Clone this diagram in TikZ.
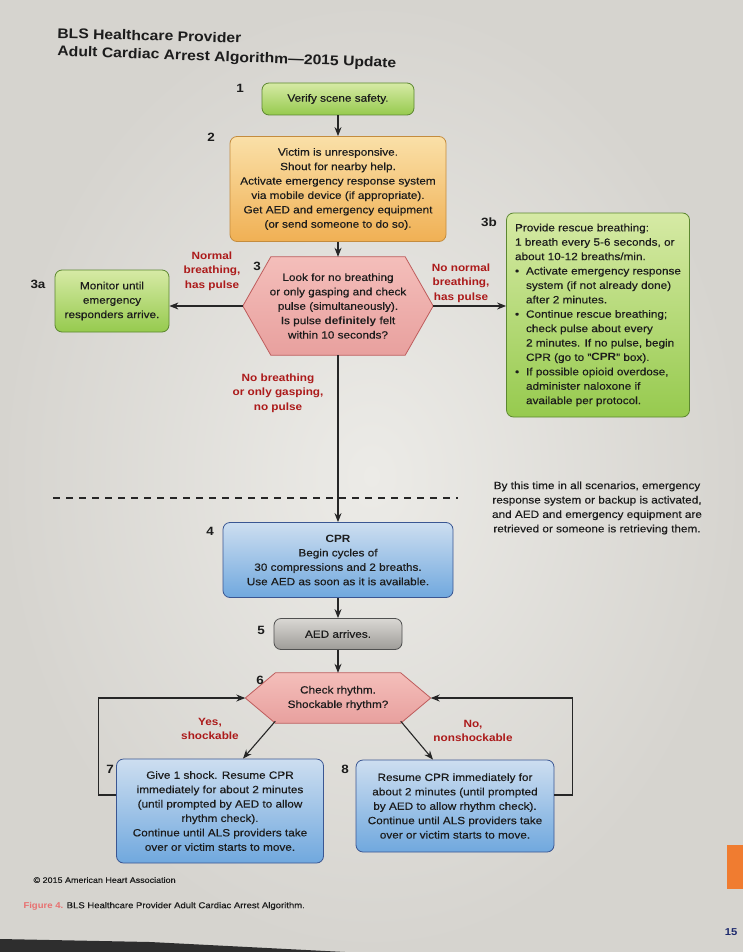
\documentclass[tikz,border=0pt]{standalone}
\usepackage{fontspec}
\setmainfont{Liberation Sans}[FakeStretch=1.12, UprightFeatures={FakeBold=0.35}]
\usetikzlibrary{arrows.meta,calc,backgrounds}
\definecolor{paperIn}{RGB}{236,235,231}
\definecolor{paperOut}{RGB}{214,212,207}
\definecolor{gT}{RGB}{214,234,165}
\definecolor{gB}{RGB}{150,202,78}
\definecolor{gD}{RGB}{92,135,48}
\definecolor{oT}{RGB}{250,224,168}
\definecolor{oB}{RGB}{240,176,84}
\definecolor{oD}{RGB}{196,140,62}
\definecolor{pT}{RGB}{244,190,186}
\definecolor{pB}{RGB}{232,160,158}
\definecolor{pD}{RGB}{190,92,92}
\definecolor{bT}{RGB}{205,222,240}
\definecolor{bB}{RGB}{112,168,222}
\definecolor{bD}{RGB}{58,86,146}
\definecolor{yT}{RGB}{218,216,212}
\definecolor{yB}{RGB}{158,156,152}
\definecolor{yD}{RGB}{80,80,80}
\definecolor{labred}{RGB}{172,26,26}
\definecolor{ink}{RGB}{28,28,28}
\definecolor{figpink}{RGB}{232,112,112}
\definecolor{orangebar}{RGB}{240,124,48}
\definecolor{pageblue}{RGB}{30,42,110}
\newcommand{\bx}{\fontsize{10.5}{14.4}\selectfont}
\newcommand{\bul}{\makebox[11pt][l]{•}}
\newcommand{\ind}{\hspace*{11pt}}
\begin{document}
\begin{tikzpicture}[x=1pt,y=-1pt,
  base/.style={rounded corners=7pt, line width=0.8pt, align=center, font=\bx, text=ink, inner sep=2pt},
  greenbox/.style={base, draw=gD, top color=gT, bottom color=gB},
  orangebox/.style={base, draw=oD, top color=oT, bottom color=oB},
  bluebox/.style={base, draw=bD, top color=bT, bottom color=bB},
  graybox/.style={base, draw=yD, top color=yT, bottom color=yB},
  hexnode/.style={align=center, font=\bx, text=ink, inner sep=0pt},
  hexshape/.style={draw=pD, line width=0.8pt, top color=pT, bottom color=pB},
  num/.style={font=\fontsize{12}{12}\selectfont\bfseries, text=ink},
  lab/.style={align=center, font=\fontsize{10.5}{14.4}\selectfont\bfseries, text=labred},
  note/.style={align=center, font=\bx, text=ink},
  arr/.style={draw=black!85, line width=1.1pt, -{Stealth[length=9pt,width=7pt]}},
  dashline/.style={draw=black!85, line width=1.6pt, dash pattern=on 7pt off 6pt}
]
\useasboundingbox (0,0) rectangle (743,952);

% title
\node[anchor=west, rotate=-1.5, font=\fontsize{14}{17}\selectfont\bfseries, text=ink] (t1) at (54,33) {BLS Healthcare Provider};
\node[anchor=west, rotate=-2, font=\fontsize{14}{17}\selectfont\bfseries, text=ink] (t2) at (54,52) {Adult Cardiac Arrest Algorithm—2015 Update};

% step 1
\node[num] (n1) at (240,88) {1};
\node[greenbox, minimum width=152, minimum height=32] (b1) at (338,99) {Verify scene safety.};

% step 2
\node[num] (n2) at (211,137) {2};
\node[orangebox, minimum width=216, minimum height=105] (b2) at (338,189) {Victim is unresponsive.\\Shout for nearby help.\\Activate emergency response system\\via mobile device (if appropriate).\\Get AED and emergency equipment\\(or send someone to do so).};

% step 3
\node[num] (n3) at (257,266) {3};
\node[hexnode, minimum width=190, minimum height=98] (h3) at (338,306) {Look for no breathing\\or only gasping and check\\pulse (simultaneously).\\Is pulse \textbf{definitely} felt\\within 10 seconds?};

\node[num] (n3a) at (38,284) {3a};
\node[greenbox, minimum width=114, minimum height=62] (b3a) at (112,301) {Monitor until\\emergency\\responders arrive.};

\node[num] (n3b) at (489,222) {3b};
\node[greenbox, minimum width=183, minimum height=204, align=left] (b3b) at (598,315) {Provide rescue breathing:\\1 breath every 5-6 seconds, or\\about 10-12 breaths/min.\\\bul Activate emergency response\\\ind system (if not already done)\\\ind after 2 minutes.\\\bul Continue rescue breathing;\\\ind check pulse about every\\\ind 2 minutes. If no pulse, begin\\\ind CPR (go to "\textbf{CPR}" box).\\\bul If possible opioid overdose,\\\ind administer naloxone if\\\ind available per protocol.};

\node[lab] (l3a) at (212,271) {Normal\\breathing,\\has pulse};
\node[lab] (l3b) at (461,283) {No normal\\breathing,\\has pulse};
\node[lab] (l4) at (278,393) {No breathing\\or only gasping,\\no pulse};

% divider and note
\coordinate (d1) at (53,498);
\coordinate (d2) at (458,498);
\node[note] (note) at (597,508) {By this time in all scenarios, emergency\\response system or backup is activated,\\and AED and emergency equipment are\\retrieved or someone is retrieving them.};

% step 4
\node[num] (n4) at (210,531) {4};
\node[bluebox, minimum width=230, minimum height=75] (b4) at (338,560) {\textbf{CPR}\\Begin cycles of\\30 compressions and 2 breaths.\\Use AED as soon as it is available.};

% step 5
\node[num] (n5) at (261,630) {5};
\node[graybox, minimum width=128, minimum height=31] (b5) at (338,634) {AED arrives.};

% step 6
\node[num] (n6) at (260,680) {6};
\node[hexnode, minimum width=185, minimum height=50] (h6) at (338,698) {Check rhythm.\\Shockable rhythm?};

\node[lab] (l7) at (210,729) {Yes,\\shockable};
\node[lab] (l8) at (473,731) {No,\\nonshockable};

% steps 7 and 8
\node[num] (n7) at (110,769) {7};
\node[bluebox, minimum width=207, minimum height=104] (b7) at (220,811) {Give 1 shock. Resume CPR\\immediately for about 2 minutes\\(until prompted by AED to allow\\rhythm check).\\Continue until ALS providers take\\over or victim starts to move.};
\node[num] (n8) at (345,769) {8};
\node[bluebox, minimum width=198, minimum height=92] (b8) at (455,806) {Resume CPR immediately for\\about 2 minutes (until prompted\\by AED to allow rhythm check).\\Continue until ALS providers take\\over or victim starts to move.};

% footer
\node[anchor=west, font=\fontsize{8}{9}\selectfont, text=ink] (copy) at (30,880) {© 2015 American Heart Association};
\node[anchor=west, font=\fontsize{8.5}{10}\selectfont, text=ink] (fig) at (20,906) {\textcolor{figpink}{\bfseries Figure 4.} BLS Healthcare Provider Adult Cardiac Arrest Algorithm.};
\node[font=\fontsize{10}{10}\selectfont\bfseries, text=pageblue] (pg) at (731,932) {15};

% background layer: paper and hexagons
\begin{scope}[on background layer]
  \shade[inner color=paperIn, outer color=paperOut] (0,0) rectangle (743,952);
  \fill[black!82] (0,939) -- (150,942) -- (345,952) -- (0,952) -- cycle;
  \fill[orangebar] (727,845) rectangle (743,889);
  \path[hexshape] ([xshift=28pt]h3.north west) -- ([xshift=-28pt]h3.north east) -- (h3.east) -- ([xshift=-28pt]h3.south east) -- ([xshift=28pt]h3.south west) -- (h3.west) -- cycle;
  \path[hexshape] ([xshift=30pt]h6.north west) -- ([xshift=-30pt]h6.north east) -- (h6.east) -- ([xshift=-30pt]h6.south east) -- ([xshift=30pt]h6.south west) -- (h6.west) -- cycle;
\end{scope}

% connectors
\draw[arr] (b1) -- (b2);
\draw[arr] (b2) -- (h3);
\draw[arr] (h3.west) -- (h3.west -| b3a.east);
\draw[arr] (h3.east) -- (h3.east -| b3b.west);
\draw[arr] (h3) -- (b4);
\draw[dashline] (d1) -- (d2);
\draw[arr] (b4) -- (b5);
\draw[arr] (b5) -- (h6);
\draw[arr] ($(h6.south west)+(30,-2)$) -- ($(b7.north)+(23,0)$);
\draw[arr] ($(h6.south east)+(-30,-2)$) -- ($(b8.north)+(-22,0)$);
\draw[arr] ($(b7.west)+(0,-16)$) -- ++(-18,0) |- (h6.west);
\draw[arr] ($(b8.east)+(0,-11)$) -- ++(18,0) |- (h6.east);
\end{tikzpicture}
\end{document}
